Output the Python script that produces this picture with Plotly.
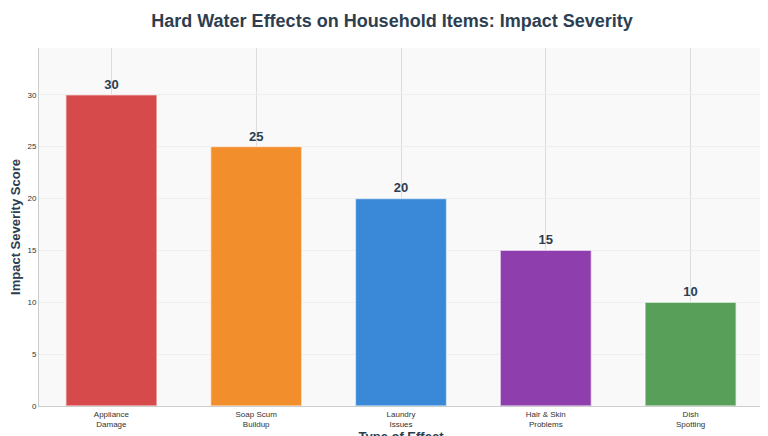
import plotly.graph_objects as go

effects = ["Appliance<br>Damage", "Soap Scum<br>Buildup", "Laundry<br>Issues", "Hair & Skin<br>Problems", "Dish<br>Spotting"]
severity = [30, 25, 20, 15, 10]
colors = ["#d64a4b", "#f28e2b", "#3a88d8", "#8e3fad", "#58a05a"]

fig = go.Figure(
    go.Bar(
        x=effects,
        y=severity,
        marker={"color": colors, "line": {"color": "rgba(255,255,255,0.6)", "width": 1.5}},
        text=severity,
        textposition="outside",
        textfont={"size": 13, "color": "#2c3e50", "family": "Liberation Sans"},
        texttemplate="<b>%{text}</b>",
        width=0.63,
        cliponaxis=False,
    )
)

fig.update_layout(
    title={"text": "<b>Hard Water Effects on Household Items: Impact Severity</b>", "x": 0.5,
           "xanchor": "center", "y": 0.972, "yref": "container", "yanchor": "middle",
           "font": {"size": 18, "color": "#2c3e50"}},
    font={"family": "Liberation Sans", "color": "#333"},
    width=768,
    height=436,
    margin={"l": 31, "r": 13, "t": 40, "b": 38},
    plot_bgcolor="#f9f9f9",
    paper_bgcolor="white",
    showlegend=False,
)
fig.update_xaxes(
    title={"text": "<b>Type of Effect</b>", "font": {"size": 13, "color": "#2c3e50"}, "standoff": 2},
    tickfont={"size": 8},
    showgrid=True,
    gridcolor="#dddddd",
    showline=True,
    linecolor="#cccccc",
    automargin=False,
)
fig.update_yaxes(
    title={"text": "<b>Impact Severity Score</b>", "font": {"size": 13, "color": "#2c3e50"}, "standoff": 4},
    range=[0, 34.5],
    dtick=5,
    tickfont={"size": 8},
    gridcolor="#eeeeee",
    showline=True,
    linecolor="#cccccc",
    zeroline=False,
    automargin=False,
)

fig.write_html("out.html")
